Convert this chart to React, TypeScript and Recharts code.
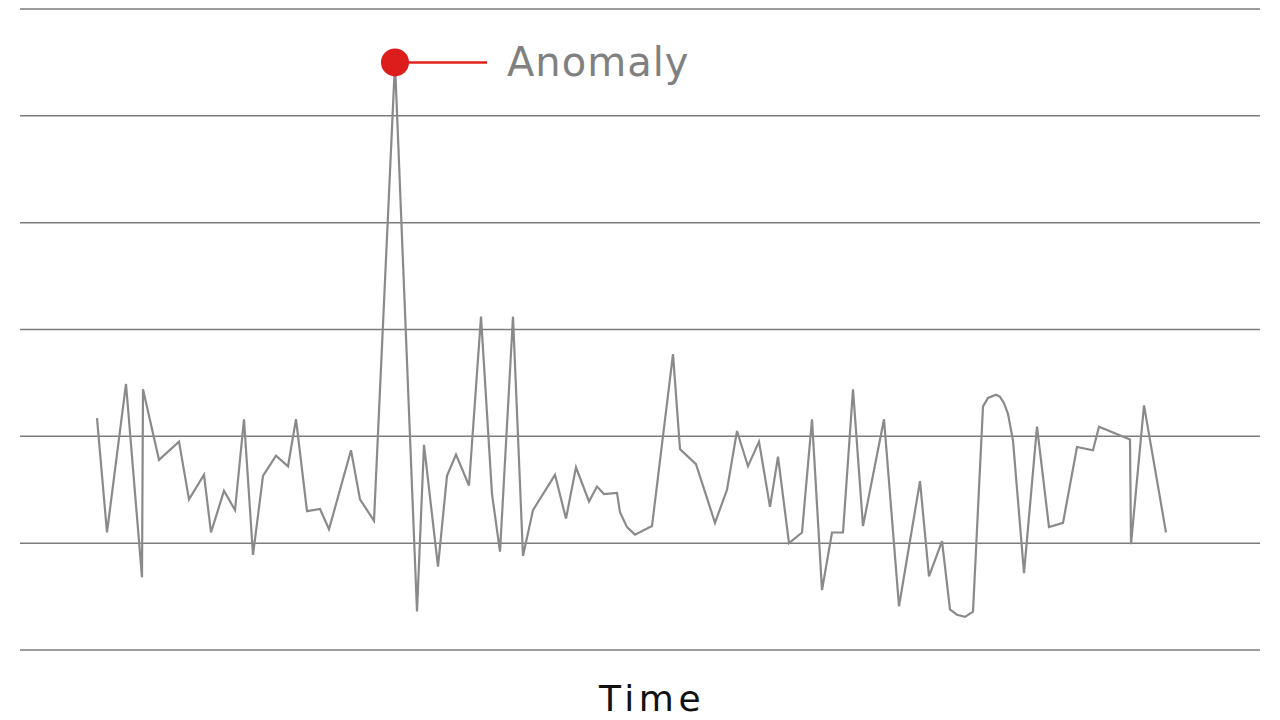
import React from "react";
import {
  LineChart,
  Line,
  XAxis,
  YAxis,
  ReferenceLine,
  ReferenceDot,
} from "recharts";

// time (arbitrary units) and signal value
const times = [
  7.7, 8.7, 10.6, 12.2, 12.3, 13.9, 15.9, 16.9, 18.4, 19.1, 20.4, 21.5, 22.4,
  23.3, 24.3, 25.6, 26.8, 27.6, 28.7, 30.0, 30.9, 33.1, 34.0, 35.4, 37.5, 39.7,
  40.4, 41.8, 42.7, 43.6, 44.9, 46.1, 47.2, 48.0, 49.3, 50.3, 51.3, 53.5, 54.6,
  55.6, 56.9, 57.7, 58.4, 59.7, 60.0, 60.7, 61.5, 63.2, 65.3, 66.0, 67.6, 69.5,
  70.7, 71.7, 72.8, 73.9, 75.0, 75.8, 76.9, 78.2, 79.2, 80.2, 81.2, 82.3, 83.3,
  84.3, 86.4, 87.9, 90.0, 90.9, 92.2, 93.0, 93.7, 94.5, 95.3, 96.3, 96.8, 97.6,
  98.0, 98.4, 98.8, 99.3, 100.4, 101.7, 102.9, 104.3, 105.7, 107.3, 107.9,
  111.0, 111.1, 112.4, 114.6,
];
const values = [
  2.17, 1.1, 2.49, 0.68, 2.44, 1.78, 1.95, 1.41, 1.64, 1.1, 1.49, 1.31, 2.16,
  0.89, 1.63, 1.82, 1.72, 2.16, 1.3, 1.32, 1.13, 1.87, 1.41, 1.21, 5.5, 0.36,
  1.92, 0.78, 1.63, 1.83, 1.54, 3.12, 1.46, 0.92, 3.12, 0.88, 1.31, 1.64, 1.23,
  1.71, 1.39, 1.53, 1.46, 1.47, 1.29, 1.15, 1.08, 1.16, 2.77, 1.88, 1.74, 1.19,
  1.5, 2.05, 1.72, 1.95, 1.34, 1.81, 1.0, 1.1, 2.16, 0.56, 1.1, 1.1, 2.44, 1.16,
  2.16, 0.41, 1.58, 0.69, 1.02, 0.38, 0.33, 0.31, 0.36, 2.28, 2.36, 2.39, 2.37,
  2.31, 2.21, 1.96, 0.72, 2.09, 1.15, 1.19, 1.9, 1.87, 2.09, 1.97, 0.99, 2.29,
  1.1,
];
const gridValues = [0, 1, 2, 3, 4, 5, 6];
const anomalyTime = 37.5;
const anomalyValue = 5.5;
const anomalyLabelTime = 46.7;

const data = times.map((t, i) => ({ t, v: values[i] }));

export default function App() {
  return (
    <div
      style={{
        position: "fixed",
        left: 0,
        top: 0,
        width: 1280,
        height: 720,
        background: "#ffffff",
      }}
    >
      <LineChart
        width={1280}
        height={720}
        data={data}
        margin={{ top: 9, right: 20, bottom: 0, left: 20 }}
      >
        <XAxis
          dataKey="t"
          type="number"
          domain={[0, 124]}
          tick={false}
          axisLine={false}
          tickLine={false}
          height={70}
          label={{
            content: ({ viewBox }: any) => (
              <text
                x={viewBox.x + viewBox.width / 2 + 12}
                y={viewBox.y + 61}
                textAnchor="middle"
                fontFamily="DejaVu Sans"
                fontSize={36}
                letterSpacing={4.5}
                fill="#111111"
              >
                Time
              </text>
            ),
          }}
        />
        <YAxis type="number" domain={[0, 6]} hide />
        {gridValues.map((g) => (
          <ReferenceLine key={g} y={g} stroke="#7c7c7c" strokeWidth={1.5} />
        ))}
        <Line
          type="linear"
          dataKey="v"
          stroke="#8a8a8a"
          strokeWidth={2.2}
          dot={false}
          isAnimationActive={false}
        />
        <ReferenceLine
          segment={[
            { x: anomalyTime, y: anomalyValue },
            { x: anomalyLabelTime, y: anomalyValue },
          ]}
          stroke="#e0201b"
          strokeWidth={2.5}
          label={{
            content: ({ viewBox }: any) => (
              <text
                x={viewBox.x + viewBox.width + 20}
                y={viewBox.y + 14}
                fontFamily="DejaVu Sans"
                fontSize={40}
                letterSpacing={1}
                fill="#808080"
              >
                Anomaly
              </text>
            ),
          }}
        />
        <ReferenceDot
          x={anomalyTime}
          y={anomalyValue}
          r={14}
          fill="#dd1c1c"
          stroke="none"
        />
      </LineChart>
    </div>
  );
}
